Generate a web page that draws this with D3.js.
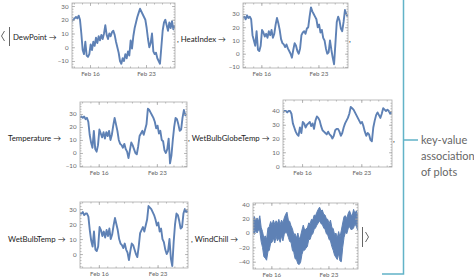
<!DOCTYPE html>
<html>
<head>
<meta charset="utf-8">
<script src="https://cdn.jsdelivr.net/npm/d3@7"></script>
<style>
  body { margin: 0; background: #fff; }
  svg { display: block; }
  text { font-family: Lato, "Open Sans", sans-serif; }
</style>
</head>
<body>
<script>
// keys of the association
var keys = ["DewPoint", "HeatIndex", "Temperature", "WetBulbGlobeTemp", "WetBulbTemp", "WindChill"];

// samples every 4 hours, starting Feb 13 18:00
var startTime = new Date(2020, 1, 13, 18);
var stepHours = 4;

var dewPoint = [19, 20, 21, 22, 21, 23, 20, 10, -2, -5, 4, -6, -7, -5,
  2, -2, 4, 1, 7, 3, 8, 5, 9, 6, 10, 16, 9, 6, 10, 8, 11, 12, 9, 4, 0,
  -4, -10, -12, -8, -10, -5, -8, -3, -6, 5, -1, 8, 14, 18, 22, 25, 28,
  26, 24, 22, 20, 14, 6, 0, 3, 10, -3, -5, -4, -8, -10, -12, 0, 12, 18,
  20, 16, 12, 18, 14, 19, 13, 16];

var heatIndex = [27, 28, 26, 29, 27, 28, 26, 14, 10, 6, 17, 3, 2, 6,
  18, 16, 13, 15, 12, 17, 14, 18, 12, 15, 22, 27, 23, 18, 11, 8, 7, 5,
  7, 4, 2, 0, -3, 3, 8, 6, 2, 0, 4, 14, 16, 17, 15, 19, 20, 28, 35, 32,
  30, 28, 26, 20, 22, 16, 18, 12, 10, 4, 0, 1, 10, 3, -3, -8, 8, 24, 28,
  25, 19, 17, 24, 33, 30, 28];

var temperature = [27, 28, 27, 28, 26, 27, 24, 14, 8, 4, 17, 3, 1, 6,
  18, 15, 12, 16, 11, 16, 13, 17, 10, 14, 21, 27, 22, 17, 10, 7, 6, 4,
  7, 3, 1, -4, 2, 8, 6, 3, 0, -1, 5, 13, 15, 17, 14, 18, 22, 34, 33, 31,
  29, 27, 24, 19, 21, 15, 17, 10, 9, 2, 0, 3, 11, -8, -2, 10, 20, 27, 26,
  22, 17, 18, 27, 33, 29, 30];

var wetBulbGlobeTemp = [39, 40, 40, 39, 40, 40, 38, 31, 28, 25, 23, 22,
  28, 24, 32, 31, 28, 30, 31, 32, 29, 31, 27, 33, 36, 35, 33, 29, 26, 25,
  24, 23, 25, 23, 22, 20, 22, 26, 27, 27, 25, 22, 24, 28, 31, 33, 35, 38,
  43, 42, 41, 39, 37, 35, 33, 31, 32, 29, 25, 22, 24, 23, 19, 18, 28, 33,
  37, 39, 37, 35, 38, 42, 41, 40, 41, 40, 38, 39];

var wetBulbTemp = [27, 27, 28, 26, 27, 27, 25, 16, 9, 5, 15, 3, 2, 5,
  18, 16, 12, 15, 11, 16, 12, 17, 10, 13, 19, 24, 20, 16, 10, 7, 6, 4,
  7, 3, 1, -4, 2, 7, 6, 3, 0, -2, 5, 14, 16, 18, 15, 19, 23, 32, 31, 30,
  28, 26, 23, 19, 21, 15, 17, 10, 8, 3, 0, 2, 10, -3, -8, 8, 20, 27, 26,
  22, 17, 18, 27, 30, 28, 29];

// wind chill swings hard between readings: upper and lower envelope
var windChillHigh = [18, 23, 17, 21, 16, 24, 8, 2, -7, -4, -9, 7, 9, 16,
  11, 18, 12, 17, 13, 19, 12, 18, 14, 21, 26, 29, 18, 16, 10, 6, -2, -1,
  -7, 0, -9, -4, 4, 11, 4, 6, 7, 14, 13, 19, 18, 25, 24, 29, 33, 36, 31,
  32, 26, 25, 20, 19, 13, 18, 8, 6, -2, 0, -7, 2, -6, 4, 14, 23, 24, 20,
  27, 31, 26, 24, 33, 27, 31, 26];
var windChillLow = [1, -2, 4, 0, 4, 3, -12, -20, -33, -35, -38, -26, -24,
  -14, -13, -7, -14, -5, -11, -7, -13, -4, -11, -2, 1, 0, -6, -12, -13,
  -24, -27, -36, -37, -43, -44, -41, -30, -24, -24, -21, -19, -9, -9, -3,
  -1, 5, 7, 11, 14, 17, 13, 12, 7, 5, -1, -3, -9, -11, -19, -24, -31, -34,
  -37, -29, -39, -40, -20, -6, 1, -1, 6, 9, 5, 5, 7, 13, 9, 4];

var dateTicks = [new Date(2020, 1, 16), new Date(2020, 1, 23)];
var timeDomain = [new Date(2020, 1, 13, 18), new Date(2020, 1, 26, 15)];

var width = 474, height = 278;
var lineColor = "#5e81b5";
var frameColor = "#aaa";
var tickTextColor = "#666";
var bracketColor = "#62b3c8";

var svg = d3.select("body").append("svg")
    .attr("width", width)
    .attr("height", height);

var times = dewPoint.map(function(d, i) { return d3.timeHour.offset(startTime, i * stepHours); });

// layout of each plot frame
var panels = [
  {key: keys[0], values: dewPoint, left: 72, right: 175, top: 3, bottom: 68, yDomain: [-15.1, 32.2], yTicks: [-10, 0, 10, 20, 30]},
  {key: keys[1], values: heatIndex, left: 243, right: 348, top: 3, bottom: 68, yDomain: [-10.8, 38.3], yTicks: [-10, 0, 10, 20, 30]},
  {key: keys[2], values: temperature, left: 80, right: 187, top: 102, bottom: 167, yDomain: [-10.8, 39.2], yTicks: [-10, 0, 10, 20, 30]},
  {key: keys[3], values: wetBulbGlobeTemp, left: 283, right: 392, top: 100, bottom: 167, yDomain: [-0.7, 48], yTicks: [0, 10, 20, 30, 40]},
  {key: keys[4], values: wetBulbTemp, left: 80, right: 188, top: 202, bottom: 268, yDomain: [-9.3, 34.7], yTicks: [0, 10, 20, 30]},
  {key: keys[5], high: windChillHigh, low: windChillLow, left: 253, right: 358, top: 203, bottom: 269, yDomain: [-50.2, 41.8], yTicks: [-40, -20, 0, 20, 40]}
];

panels.forEach(function(p, n) {
  var w = p.right - p.left, h = p.bottom - p.top;
  var x = d3.scaleTime().domain(timeDomain).range([0, w]);
  var y = d3.scaleLinear().domain(p.yDomain).range([h, 0]);

  var g = svg.append("g").attr("transform", "translate(" + p.left + "," + p.top + ")");

  g.append("clipPath").attr("id", "clip" + n)
    .append("rect").attr("width", w).attr("height", h);

  var plot = g.append("g").attr("clip-path", "url(#clip" + n + ")");

  if (p.values) {
    var line = d3.line()
        .x(function(d, i) { return x(times[i]); })
        .y(function(d) { return y(d); });
    plot.append("path")
        .datum(p.values)
        .attr("d", line)
        .attr("fill", "none")
        .attr("stroke", lineColor)
        .attr("stroke-width", 1.9)
        .attr("stroke-linejoin", "round");
  } else {
    var area = d3.area()
        .x(function(d, i) { return x(times[i]); })
        .y0(function(d, i) { return y(p.low[i]); })
        .y1(function(d) { return y(d); });
    plot.append("path")
        .datum(p.high)
        .attr("d", area)
        .attr("fill", lineColor)
        .attr("stroke", lineColor)
        .attr("stroke-width", 1);
  }

  // minor ticks: every day on x, every fifth of a major step on y
  var days = d3.timeDay.range(timeDomain[0], timeDomain[1]);
  var ystep = p.yTicks[1] - p.yTicks[0];
  var yMinor = d3.range(Math.ceil(p.yDomain[0] / (ystep / 5)) * (ystep / 5), p.yDomain[1], ystep / 5);

  function styleAxis(a) {
    a.select(".domain").remove();
    a.selectAll("line").attr("stroke", frameColor).attr("stroke-width", 0.8);
    a.selectAll("text").attr("fill", tickTextColor).style("font-size", "6.2px");
  }

  // bottom
  g.append("g").attr("transform", "translate(0," + h + ")")
      .call(d3.axisBottom(x).tickValues(days).tickSize(-1.5).tickFormat(""))
      .call(styleAxis);
  g.append("g").attr("transform", "translate(0," + h + ")")
      .call(d3.axisBottom(x).tickValues(dateTicks).tickSize(-3).tickPadding(4).tickFormat(d3.timeFormat("%b %d")))
      .call(styleAxis);
  // top
  g.append("g")
      .call(d3.axisTop(x).tickValues(days).tickSize(-1.5).tickFormat(""))
      .call(styleAxis);
  g.append("g")
      .call(d3.axisTop(x).tickValues(dateTicks).tickSize(-3).tickFormat(""))
      .call(styleAxis);
  // left
  g.append("g")
      .call(d3.axisLeft(y).tickValues(yMinor).tickSize(-1.5).tickFormat(""))
      .call(styleAxis);
  g.append("g")
      .call(d3.axisLeft(y).tickValues(p.yTicks).tickSize(-3).tickPadding(3.5).tickFormat(d3.format("d")))
      .call(styleAxis);
  // right
  g.append("g").attr("transform", "translate(" + w + ",0)")
      .call(d3.axisRight(y).tickValues(yMinor).tickSize(-1.5).tickFormat(""))
      .call(styleAxis);
  g.append("g").attr("transform", "translate(" + w + ",0)")
      .call(d3.axisRight(y).tickValues(p.yTicks).tickSize(-3).tickFormat(""))
      .call(styleAxis);

  g.append("rect")
      .attr("width", w).attr("height", h)
      .attr("fill", "none")
      .attr("stroke", frameColor)
      .attr("stroke-width", 0.8);
});

// keys and separators of the association
var labels = [
  {text: keys[0] + " \u2192", x: 13, y: 37},
  {text: ", " + keys[1] + " \u2192", x: 177, y: 39},
  {text: ",", x: 349, y: 39},
  {text: keys[2] + " \u2192", x: 8, y: 138},
  {text: ", " + keys[3] + " \u2192", x: 188, y: 138},
  {text: ",", x: 393, y: 139},
  {text: keys[4] + " \u2192", x: 8, y: 239},
  {text: ", " + keys[5] + " \u2192", x: 191, y: 239}
];

svg.selectAll("text.key")
  .data(labels)
  .enter().append("text")
    .attr("class", "key")
    .attr("x", function(d) { return d.x; })
    .attr("y", function(d) { return d.y; })
    .attr("dy", "0.35em")
    .attr("fill", "#222")
    .style("font-size", "7.8px")
    .text(function(d) { return d.text; });

// opening <| and closing |> of the association
svg.append("path")
    .attr("d", "M4.5,31L1.5,36L4.5,41M9.5,27V46")
    .attr("fill", "none").attr("stroke", "#555").attr("stroke-width", 0.9);
svg.append("path")
    .attr("d", "M362.5,227V247M365.5,232L368.5,237L365.5,242")
    .attr("fill", "none").attr("stroke", "#555").attr("stroke-width", 0.9);

// bracket and callout
svg.append("path")
    .attr("d", "M403.5,0V274H382M403.5,140H418")
    .attr("fill", "none")
    .attr("stroke", bracketColor)
    .attr("stroke-width", 1.5);

svg.selectAll("text.note")
  .data(["key-value", "association", "of plots"])
  .enter().append("text")
    .attr("class", "note")
    .attr("x", 421)
    .attr("y", function(d, i) { return 144 + i * 16; })
    .attr("fill", "#666")
    .style("font-size", "11px")
    .text(function(d) { return d; });
</script>
</body>
</html>
